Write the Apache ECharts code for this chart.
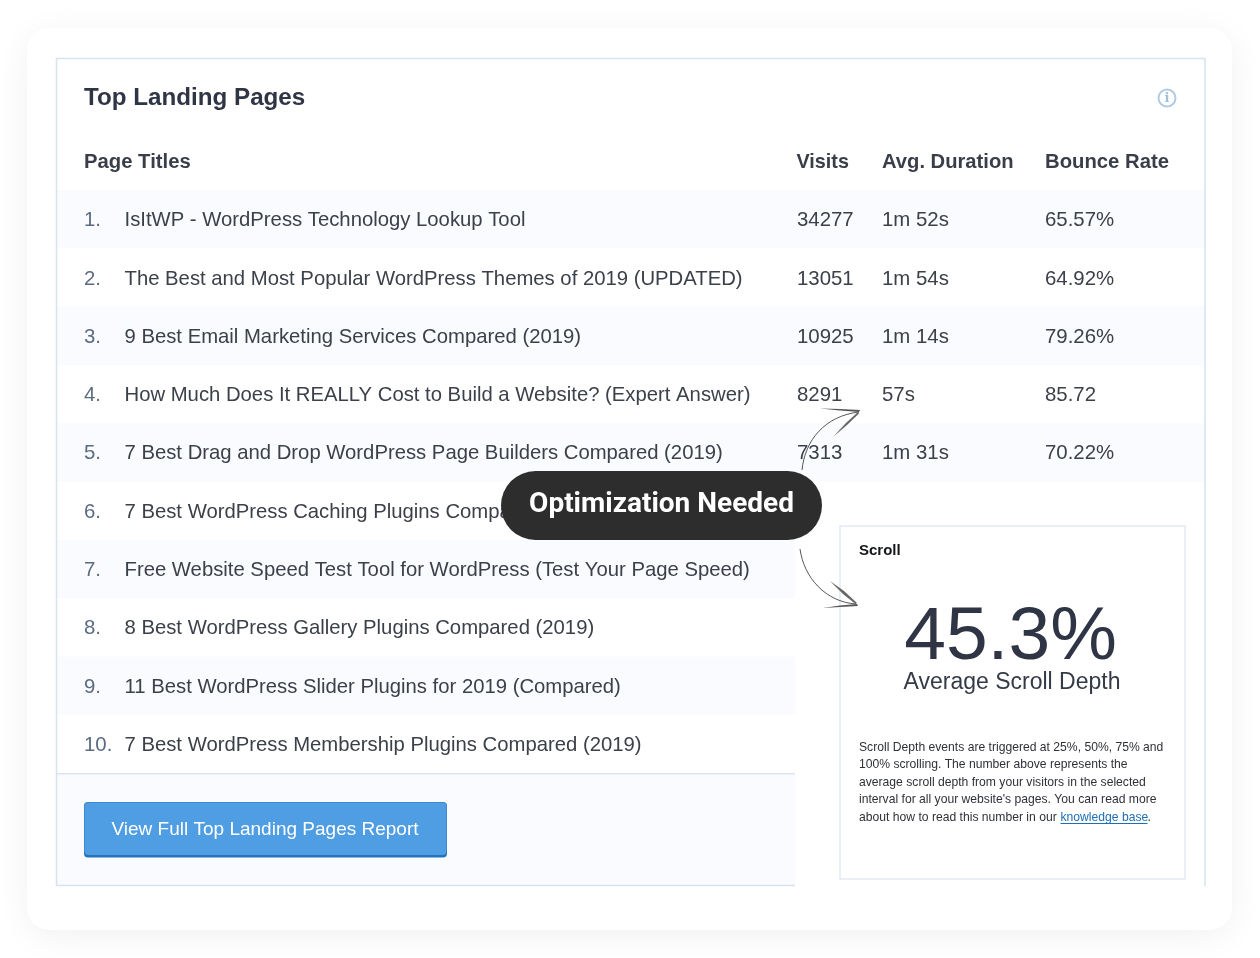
<!DOCTYPE html>
<html>
<head>
<meta charset="utf-8">
<title>Top Landing Pages</title>
<script src="https://cdn.jsdelivr.net/npm/echarts@6/dist/echarts.min.js"></script>
<style>
  html, body { margin: 0; padding: 0; background: #fff; }
  #chart { width: 1260px; height: 958px; }
</style>
</head>
<body>
<div id="chart"></div>
<script>
// table data
const ranks = ['1.', '2.', '3.', '4.', '5.', '6.', '7.', '8.', '9.', '10.'];
const pageTitles = [
  'IsItWP - WordPress Technology Lookup Tool',
  'The Best and Most Popular WordPress Themes of 2019 (UPDATED)',
  '9 Best Email Marketing Services Compared (2019)',
  'How Much Does It REALLY Cost to Build a Website? (Expert Answer)',
  '7 Best Drag and Drop WordPress Page Builders Compared (2019)',
  '7 Best WordPress Caching Plugins Compared (2019)',
  'Free Website Speed Test Tool for WordPress (Test Your Page Speed)',
  '8 Best WordPress Gallery Plugins Compared (2019)',
  '11 Best WordPress Slider Plugins for 2019 (Compared)',
  '7 Best WordPress Membership Plugins Compared (2019)'
];
const visits = ['34277', '13051', '10925', '8291', '7313'];
const durations = ['1m 52s', '1m 54s', '1m 14s', '57s', '1m 31s'];
const bounceRates = ['65.57%', '64.92%', '79.26%', '85.72', '70.22%'];
const scrollText = [
  'Scroll Depth events are triggered at 25%, 50%, 75% and',
  '100% scrolling. The number above represents the',
  'average scroll depth from your visitors in the selected',
  "interval for all your website's pages. You can read more",
  'about how to read this number in our'
];

const FONT = '"Liberation Sans", Helvetica, Arial, sans-serif';
const BORDER = '#d6e4f0';
const STRIPE = '#fafbfe';

function text(x, y, str, size, color, weight, align, family) {
  return {
    type: 'text', z: 10,
    style: {
      x: x, y: y, text: str, fill: color,
      font: (weight || 'normal') + ' ' + size + 'px ' + (family || FONT),
      textAlign: align || 'left', textVerticalAlign: 'middle'
    }
  };
}
function rect(x, y, w, h, fill, z, extra) {
  return {
    type: 'rect', z: z,
    shape: { x: x, y: y, width: w, height: h, r: (extra && extra.r) || 0 },
    style: Object.assign({ fill: fill }, extra && extra.style)
  };
}
function curve(x1, y1, cx1, cy1, cx2, cy2, x2, y2) {
  return {
    type: 'bezierCurve', z: 11,
    shape: { x1: x1, y1: y1, cpx1: cx1, cpy1: cy1, cpx2: cx2, cpy2: cy2, x2: x2, y2: y2 },
    style: { fill: 'none', stroke: '#444', lineWidth: 0.9 }
  };
}
function stroke(points, color) {
  return { type: 'polygon', z: 11, shape: { points: points }, style: { fill: color } };
}

const chart = echarts.init(document.getElementById('chart'));

chart.setOption({
  animation: false,
  backgroundColor: '#fff',
  grid: { left: 0, right: 0, top: 190, height: 583 },
  xAxis: { type: 'value', min: 0, max: 1260, show: false },
  yAxis: { type: 'category', data: ranks, inverse: true, show: false },
  series: [{
    type: 'custom',
    z: 2,
    coordinateSystem: 'cartesian2d',
    data: ranks.map((r, i) => [0, i]),
    renderItem: function (params, api) {
      const i = api.value(1);
      const y = api.coord([0, i])[1];
      const h = api.size([0, 1])[1];
      const x = v => api.coord([v, i])[0];
      const cell = (col, str, color, size) => ({
        type: 'text',
        style: {
          x: x(col), y: y + 1.5, text: str, fill: color,
          font: size + 'px ' + FONT, textVerticalAlign: 'middle'
        }
      });
      const children = [];
      if (i % 2 === 0) {
        children.push({
          type: 'rect',
          shape: { x: x(57), y: y - h / 2, width: 1147, height: h },
          style: { fill: STRIPE }
        });
      }
      children.push(cell(84, ranks[i], '#5b6b82', 20.4));
      children.push(cell(124.5, pageTitles[i], '#3b4049', 20.3));
      if (i < visits.length) {
        children.push(cell(797, visits[i], '#3b4049', 20.4));
        children.push(cell(882, durations[i], '#3b4049', 20.4));
        children.push(cell(1045, bounceRates[i], '#3b4049', 20.4));
      }
      return { type: 'group', children: children };
    }
  }],
  graphic: {
    elements: [
      // outer card with soft shadow
      rect(27, 28, 1205, 902, '#fff', 0, { r: 22, style: { shadowBlur: 34, shadowColor: 'rgba(0,0,0,0.06)', shadowOffsetY: 6 } }),
      // footer behind the button
      rect(57, 774, 738, 111, STRIPE, 1),
      rect(57, 773, 738, 1.5, '#dce6f1', 1),
      // right hand panel that hides the stripes
      rect(795, 482, 409, 405, '#fff', 5),
      // table frame
      { type: 'polyline', z: 6, shape: { points: [[795, 885.5], [56.5, 885.5], [56.5, 58.5], [1205, 58.5], [1205, 886]] }, style: { stroke: BORDER, lineWidth: 1.5, fill: 'none' } },

      text(84, 98, 'Top Landing Pages', 24.2, '#2f3545', 'bold'),
      text(84, 162.5, 'Page Titles', 20.3, '#393e48', 'bold'),
      text(796.5, 162.5, 'Visits', 19.8, '#393e48', 'bold'),
      text(882, 162.5, 'Avg. Duration', 20.2, '#393e48', 'bold'),
      text(1045, 162.5, 'Bounce Rate', 20.3, '#393e48', 'bold'),

      // info icon
      { type: 'circle', z: 10, shape: { cx: 1167, cy: 98, r: 8.5 }, style: { fill: 'none', stroke: '#b0cbe3', lineWidth: 2 } },
      text(1167, 98.5, 'i', 13, '#a0bfdb', 'bold', 'center', '"DejaVu Serif", serif'),

      // button
      rect(84, 802, 363, 55.5, '#2274bd', 7, { r: 4 }),
      rect(84.5, 802.5, 362, 52.5, '#4f9de2', 8, { r: 4 }),
      text(265, 830, 'View Full Top Landing Pages Report', 19, '#fff', 'normal', 'center'),

      // scroll card
      { type: 'rect', z: 7, shape: { x: 840, y: 526, width: 345, height: 353 }, style: { fill: '#fff', stroke: '#e1eaf3', lineWidth: 1.5 } },
      text(859, 550.5, 'Scroll', 15, '#14171c', 'bold'),
      text(1010.5, 638, '45.3%', 75, '#2f3545', 'normal', 'center'),
      text(1012, 682.5, 'Average Scroll Depth', 23, '#343a46', 'normal', 'center'),
      ...scrollText.map((line, i) => text(859, 747.5 + i * 17.5, line, 12.15, '#2e3137')),
      text(1060.5, 817.5, 'knowledge base', 12.15, '#1c6fb4'),
      { type: 'line', z: 10, shape: { x1: 1060.5, y1: 823.5, x2: 1147.5, y2: 823.5 }, style: { stroke: '#1c6fb4', lineWidth: 1 } },
      text(1147.5, 817.5, '.', 12.15, '#2e3137'),

      // hand drawn arrows
      curve(802, 470, 805, 440, 825, 416, 859, 412),
      stroke([[820, 408.5], [840, 409], [860, 410], [859, 412], [840, 410.5]], '#555'),
      stroke([[833, 437], [846, 423], [858, 412], [859, 413.5], [847, 425]], '#666'),
      curve(800, 549, 804, 578, 826, 602, 856, 604),
      stroke([[830, 581], [844, 591], [857, 603], [855.5, 604], [843, 594]], '#666'),
      stroke([[823, 608], [840, 605.5], [857, 604], [858, 606], [840, 607]], '#555'),

      // callout pill
      rect(501, 471, 321, 69, '#2d2d2d', 12, { r: 34.5 }),
      Object.assign(text(661.5, 505, 'Optimization Needed', 28, '#fff', 'bold', 'center', 'Roboto, sans-serif'), { z: 13 })
    ]
  }
});

window.addEventListener('resize', () => {
  chart.resize();
});
</script>
</body>
</html>
